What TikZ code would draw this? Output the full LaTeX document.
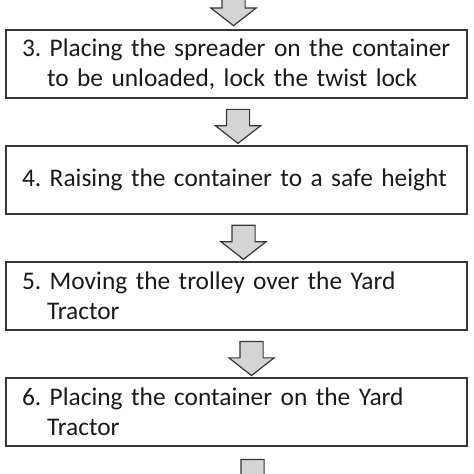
\documentclass[tikz,border=0pt]{standalone}
\usepackage{fontspec}
\setmainfont{Carlito}
\usetikzlibrary{positioning,calc,shapes.arrows}

\definecolor{boxline}{HTML}{363636}
\definecolor{arrowfill}{HTML}{D4D4D4}
\definecolor{steptext}{HTML}{1A1A1A}
\newcommand{\stepindent}{\hspace*{25pt}}
\newcommand{\shaft}{\rule{22pt}{0pt}}
\frenchspacing

\begin{document}
\begin{tikzpicture}[x=1pt,y=1pt,
    stepbox/.style={draw=boxline, line width=1.7pt, minimum width=461pt,
        minimum height=68pt, text width=429pt, inner xsep=16pt, inner ysep=0pt,
        align=left, text=steptext, font=\fontsize{25.4}{30}\selectfont},
    downarrow/.style={single arrow, draw=boxline, fill=arrowfill, line width=1.2pt,
        shape border rotate=270, minimum height=34pt, minimum width=44pt,
        single arrow head extend=11pt, single arrow tip angle=104, inner sep=0pt}]
    \useasboundingbox (0,0) rectangle (474,-474);

    % the steps
    \node[stepbox] (s3) at (236.5,-64) {\mbox{3. Placing the spreader on the container}\\
        \mbox{\stepindent to be unloaded, lock the twist lock}};
    \node[stepbox, below=46pt of s3] (s4) {\mbox{4. Raising the container to a safe height}};
    \node[stepbox, below=46.5pt of s4] (s5) {\mbox{5. Moving the trolley over the Yard}\\
        \stepindent Tractor};
    \node[stepbox, below=46.5pt of s5] (s6) {\mbox{6. Placing the container on the Yard}\\
        \stepindent Tractor};

    % the arrows between them
    \node[downarrow] (a23) at ($(s3.north)+(-3,25)$) {\shaft};
    \node[downarrow, xshift=1.5pt] (a34) at ($(s3.south)!0.5!(s4.north)$) {\shaft};
    \node[downarrow, xshift=7pt] (a45) at ($(s4.south)!0.5!(s5.north)$) {\shaft};
    \node[downarrow, xshift=15pt] (a56) at ($(s5.south)!0.5!(s6.north)$) {\shaft};
    \node[downarrow] (a67) at ($(s6.south)+(16,-25)$) {\shaft};
\end{tikzpicture}
\end{document}
